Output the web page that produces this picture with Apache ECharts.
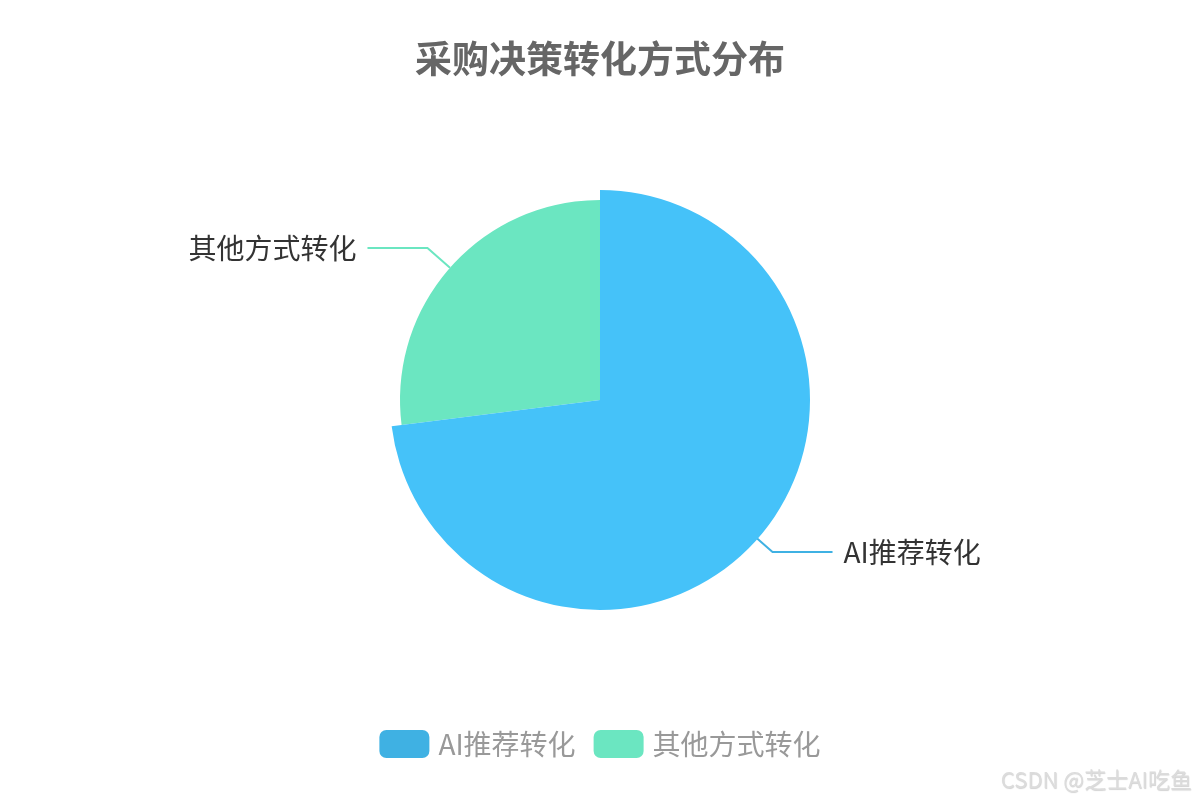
<!DOCTYPE html>
<html>
<head>
<meta charset="utf-8">
<script src="https://cdn.jsdelivr.net/npm/echarts@6/dist/echarts.min.js"></script>
<style>
html,body{margin:0;padding:0;background:#fff;}
#main{width:1200px;height:800px;}
</style>
</head>
<body>
<div id="main"></div>
<script>
const titleText = '采购决策转化方式分布';
const categories = ['AI推荐转化', '其他方式转化'];
const values = [73, 27];
const colors = ['#3fb1e3', '#6be6c1'];

const chart = echarts.init(document.getElementById('main'));
const FONT = '"Noto Sans CJK SC", "Noto Sans", sans-serif';
chart.setOption({
  animation: false,
  color: colors,
  backgroundColor: '#ffffff',
  textStyle: { fontFamily: FONT },
  title: {
    text: titleText,
    left: 'center',
    top: 35,
    textStyle: { fontSize: 37, fontWeight: 'bold', color: '#666666', fontFamily: FONT }
  },
  legend: {
    bottom: 37,
    left: 'center',
    icon: 'roundRect',
    itemWidth: 50,
    itemHeight: 28,
    itemGap: 18,
    textStyle: { fontSize: 28, color: '#999999', fontFamily: FONT, padding: [0, 0, 0, 4] },
    data: categories
  },
  series: [{
    type: 'pie',
    center: ['50%', '50%'],
    radius: 200,
    label: { fontSize: 28, color: '#333333', fontFamily: FONT, distanceToLabelLine: 11 },
    labelLine: { length: 30, length2: 60, lineStyle: { width: 2 } },
    emphasis: { scale: true, scaleSize: 10 },
    data: categories.map((name, i) => ({ name: name, value: values[i] }))
  }],
  graphic: [{
    type: 'text',
    right: 8,
    bottom: 9,
    style: {
      text: 'CSDN @芝士AI吃鱼',
      fontSize: 22,
      fontWeight: 'normal',
      fill: '#dcdcdc',
      fontFamily: FONT,
      textShadowColor: 'rgba(0,0,0,0.18)',
      textShadowBlur: 1,
      textShadowOffsetX: 0.5,
      textShadowOffsetY: 0.5
    }
  }]
});
chart.dispatchAction({ type: 'highlight', seriesIndex: 0, dataIndex: 0 });
</script>
</body>
</html>
